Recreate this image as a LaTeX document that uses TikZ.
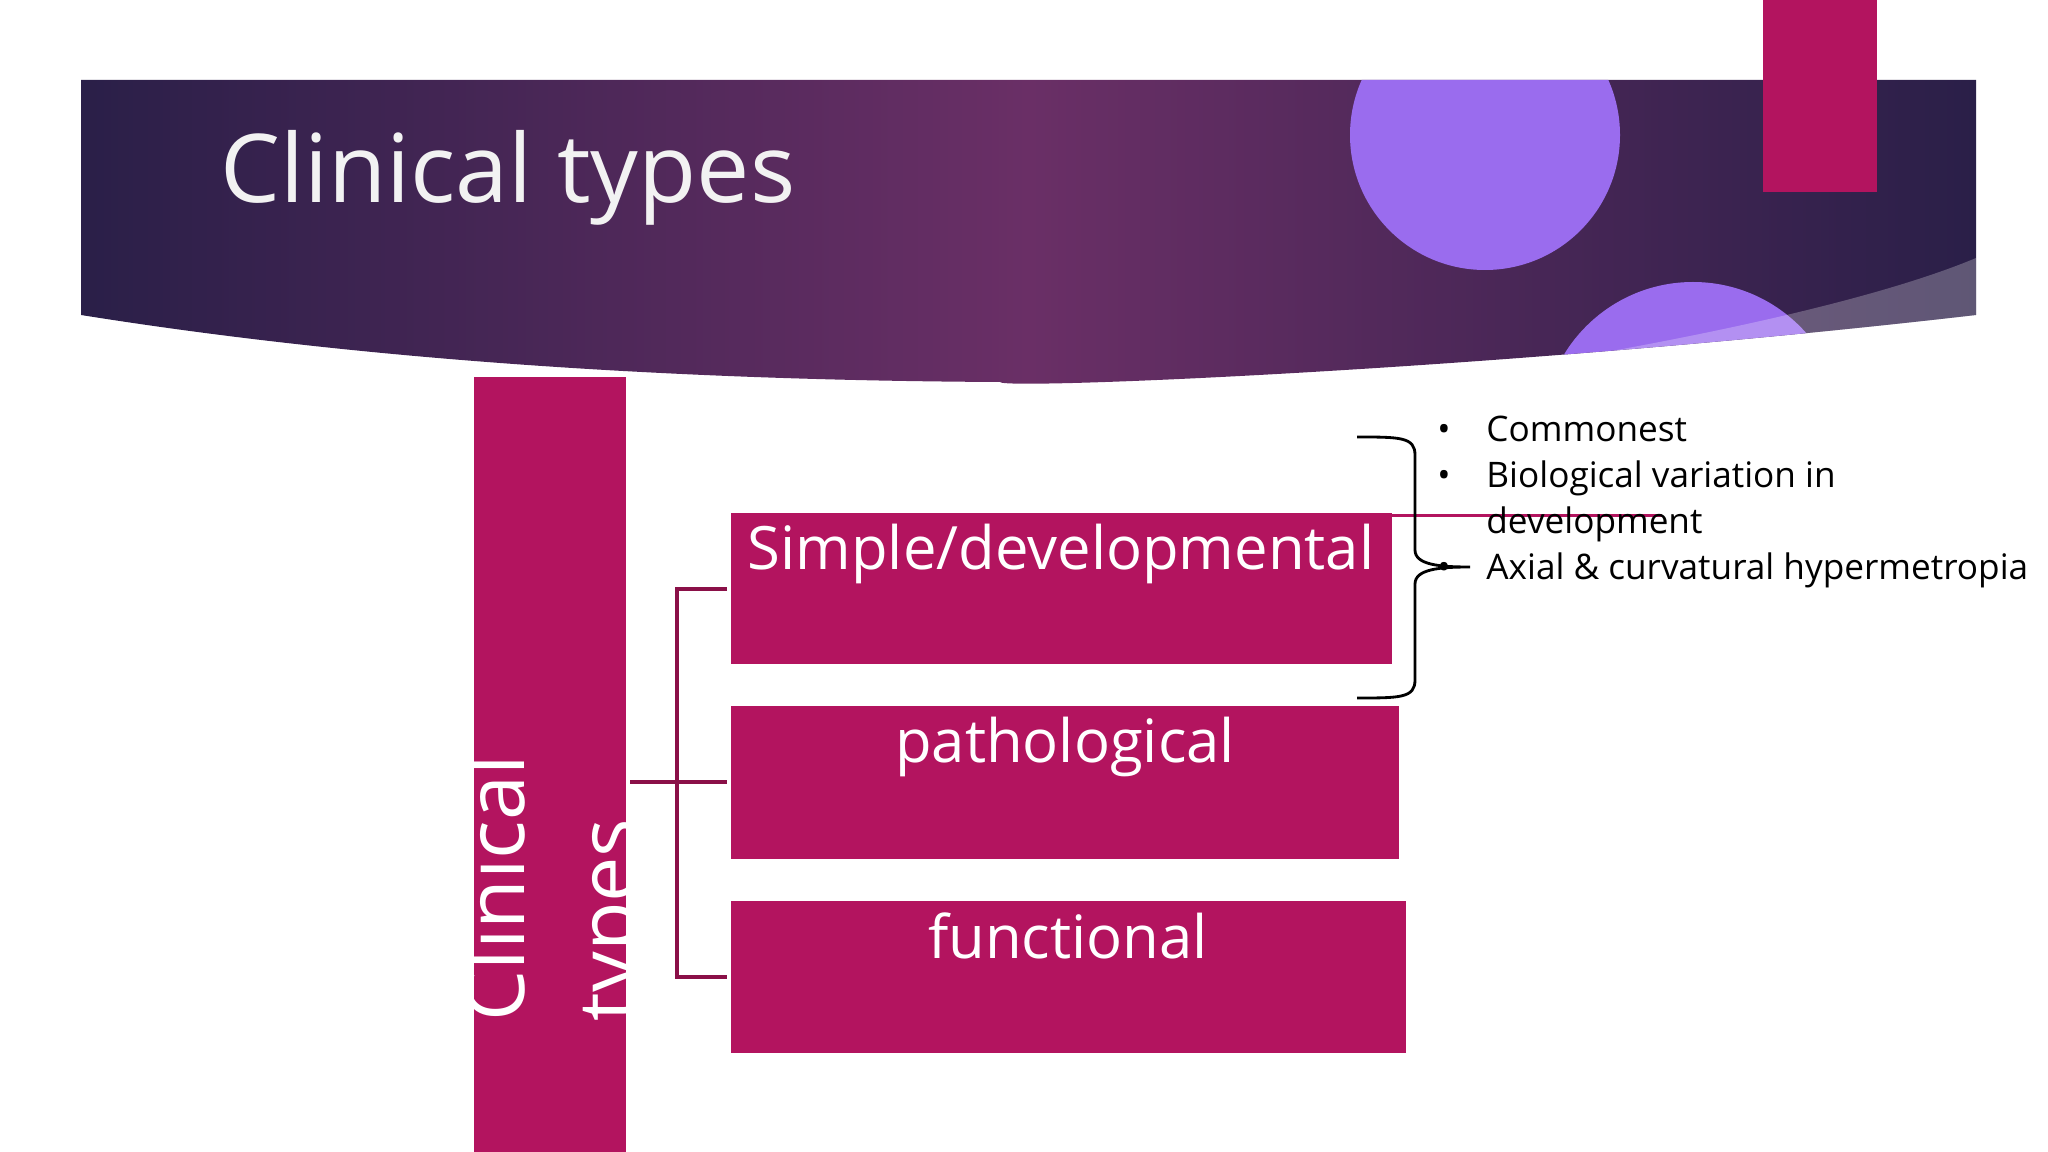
\documentclass[tikz,border=0pt]{standalone}
\usepackage{fontspec}
\setmainfont{Open Sans}
\definecolor{mag}{HTML}{B3145F}
\definecolor{dmag}{HTML}{8A1048}
\definecolor{ban1}{HTML}{2A1F48}
\definecolor{ban2}{HTML}{6A2F66}
\definecolor{circ}{HTML}{9A6CEE}
\tikzset{box/.style={fill=mag,draw=none},
 boxtxt/.style={text=white,font=\fontsize{17}{20}\selectfont,anchor=north},
 conn/.style={draw=dmag,line width=1.2pt},
 bul/.style={anchor=base west,font=\fontsize{10}{12}\selectfont}}
\begin{document}
\begin{tikzpicture}[x=0.01cm,y=-0.01cm]
\useasboundingbox (0,0) rectangle (2048,1152);
% banner
\path[left color=ban1,right color=ban1,middle color=ban2]
 (81,80) -- (1976,80) -- (1976,315) .. controls (1500,370) and (1000,390) .. (1000,382)
 .. controls (600,380) and (300,350) .. (81,315) -- cycle;
\begin{scope}
\clip (81,80) -- (1976,80) -- (1976,315) .. controls (1500,370) and (1000,390) .. (1000,382)
 .. controls (600,380) and (300,350) .. (81,315) -- cycle;
\fill[circ] (1485,135) circle (135);
\fill[circ] (1693,433) circle (151);
\fill[white,opacity=0.25] (1500,370) .. controls (1750,330) and (1900,290) .. (1976,258) -- (1976,400) -- cycle;
\end{scope}
\fill[mag] (1763,0) rectangle (1877,192);
\node[anchor=west,text=white!90!gray,font=\fontsize{27}{30}\selectfont] (title) at (208,178) {Clinical types};
% vertical bar
\fill[mag] (474,377) rectangle (626,1152);
\node[rotate=90,anchor=north west,text=white,align=left,font=\fontsize{23}{32}\selectfont,inner sep=0pt] (ct) at (462,1022) {Clinical\\types};
\coordinate (barr) at (630,782);
% boxes
\node[box,minimum width=661\pgflinewidth,inner sep=0pt,anchor=north west] (b1) at (731,513) {};
\path[box] (731,513) rectangle (1392,664);
\path[box] (731,706) rectangle (1399,859);
\path[box] (731,901) rectangle (1406,1053);
\node[boxtxt] (t1) at (1061,512) {Simple/developmental};
\node[boxtxt] (t2) at (1065,705) {pathological};
\node[boxtxt] (t3) at (1068,900) {functional};
\coordinate (j) at (677,782);
\coordinate (e1) at (727,589);
\coordinate (e2) at (727,782);
\coordinate (e3) at (727,977);
\draw[conn] (barr) -- (e2);
\draw[conn] (e1) -| (j) |- (e3);
% brace
\draw[line width=0.8pt] (1357,437) .. controls (1400,437) and (1415,437) .. (1415,455) -- (1415,550)
 .. controls (1415,565) and (1440,567) .. (1470,567) .. controls (1440,567) and (1415,569) .. (1415,584)
 -- (1415,680) .. controls (1415,698) and (1400,698) .. (1357,698);
\foreach \y/\t in {442/Commonest,488/Biological variation in,580/Axial \& curvatural hypermetropia}{
 \node[bul] at (1425,\y) {•};
 \node[bul] at (1474,\y) {\t};}
\node[bul] (d) at (1474,534) {development};
\end{tikzpicture}
\end{document}
